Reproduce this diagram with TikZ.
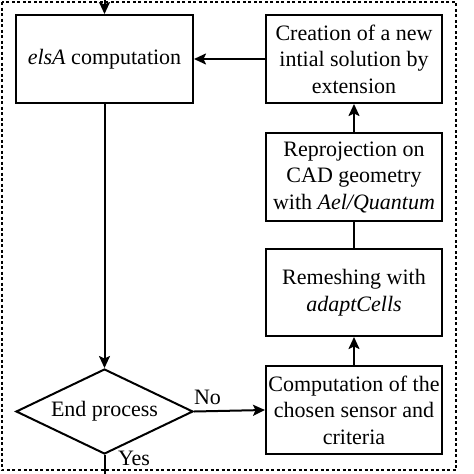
\documentclass[tikz,border=0pt]{standalone}
\usepackage{fontspec}
\setmainfont{Liberation Serif}
\usetikzlibrary{shapes.geometric,arrows.meta}
\begin{document}
\begin{tikzpicture}[x=1pt,y=-1pt,
  line width=2pt,
  box/.style={draw,rectangle,minimum width=176pt,minimum height=88pt,inner sep=0pt,align=center,font=\fontsize{22}{26.5}\selectfont},
  dec/.style={draw,diamond,aspect=2.08,minimum width=177pt,minimum height=85pt,inner sep=0pt,font=\fontsize{22}{26.5}\selectfont},
  lab/.style={font=\fontsize{22}{26.5}\selectfont,inner sep=1pt},
  arr/.style={-{Stealth[length=12pt,width=11pt,inset=2.5pt]}},
  frame/.style={draw,line width=1.8pt,dash pattern=on 3pt off 2.5pt}]
\useasboundingbox (0,0) rectangle (474,474);
\path[frame] (2,2) rectangle (456,470);
\node[box,minimum width=177pt] (elsa) at (104.5,59) {\textit{elsA} computation};
\node[box] (creat) at (354,59) {Creation of a new\\intial solution by\\extension};
\node[box] (reproj) at (354,177) {Reprojection on\\CAD geometry\\with \textit{Ael/Quantum}};
\node[box,minimum height=87pt] (remesh) at (354,292.5) {Remeshing with\\\textit{adaptCells}};
\node[box] (comp) at (354,410) {Computation of the\\chosen sensor and\\criteria};
\node[dec] (end) at (104.5,411.5) {End process};
\coordinate (top) at (104.5,0);
\coordinate (bot) at (104.5,474);
\draw[arr] (top) -- (elsa.north);
\draw[arr] (elsa.south) -- (end.north);
\draw[arr] (end.east) -- (comp.west);
\draw[arr] (comp.north) -- (remesh.south);
\draw (remesh.north) -- (reproj.south);
\draw[arr] (reproj.north) -- (creat.south);
\draw[arr] (creat.west) -- (elsa.east);
\draw (end.south) -- (bot);
\node[lab] (no) at (207.5,397) {No};
\node[lab,fill=white,anchor=west] (yes) at (116,458) {Yes};
\end{tikzpicture}
\end{document}
